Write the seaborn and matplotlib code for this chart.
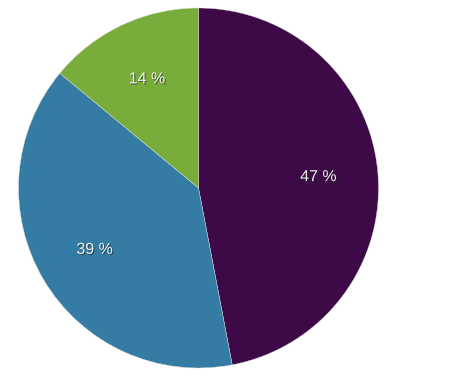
import matplotlib
matplotlib.use("Agg")
import matplotlib.pyplot as plt
import matplotlib.patheffects as pe
import numpy as np
import seaborn as sns

# slice data, drawn clockwise from 12 o'clock
shares = [47, 39, 14]
slice_labels = ["47 %", "39 %", "14 %"]
slice_colors = ["#3d0a47", "#357ca5", "#79ad3b"]

sns.set_theme(style="white")
plt.rcParams['font.family'] = ['Liberation Sans', 'DejaVu Sans']

fig = plt.figure(figsize=(4.74, 3.84), dpi=100)
ax = fig.add_axes([18.5 / 474, 16 / 384, 360 / 474, 360 / 384])

wedges, texts = ax.pie(
    shares,
    colors=slice_colors,
    startangle=90,
    counterclock=False,
    radius=1.0,
    wedgeprops=dict(linewidth=0.3, edgecolor="#dddddd"),
)

# percent labels, light text with a soft drop shadow
for w, lab in zip(wedges, slice_labels):
    ang = np.deg2rad((w.theta1 + w.theta2) / 2)
    ax.text(0.67 * np.cos(ang), 0.67 * np.sin(ang), lab,
            ha="center", va="center", fontsize=11.5, color="#eeeeee",
            path_effects=[pe.withSimplePatchShadow(offset=(0.8, -0.8),
                                                   shadow_rgbFace="#222222", alpha=0.6)])

ax.set_xlim(-1, 1)
ax.set_ylim(-1, 1)
ax.set_aspect("equal")
ax.axis("off")

fig.savefig("out.png", dpi=100, facecolor="white")
